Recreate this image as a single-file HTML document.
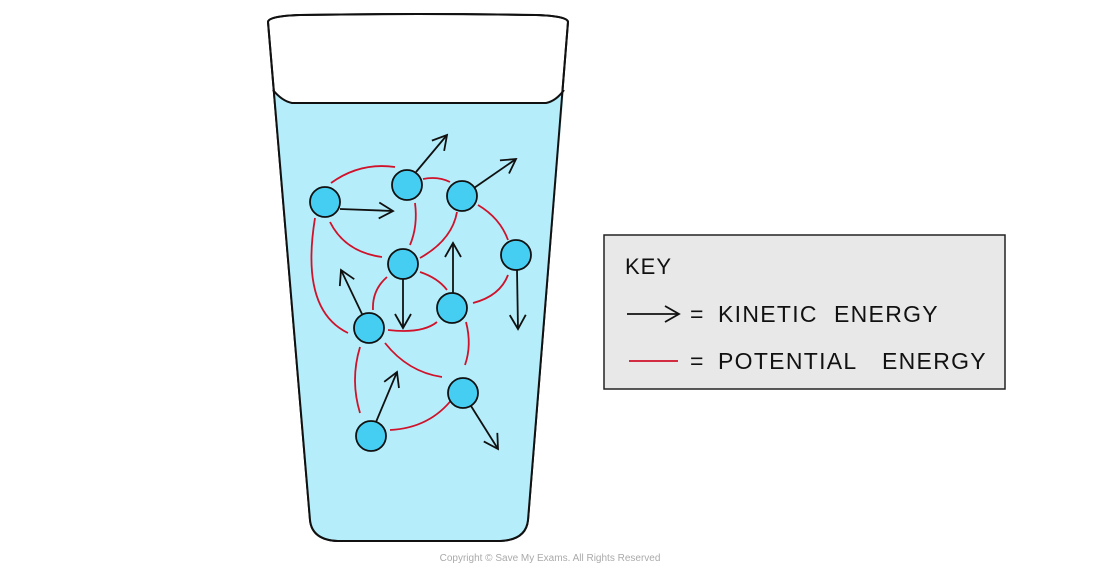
<!DOCTYPE html>
<html><head><style>
body{margin:0;background:#fff;}
svg{display:block;font-family:"Liberation Sans",sans-serif;}
</style></head><body>
<svg width="1100" height="570" viewBox="0 0 1100 570" xmlns="http://www.w3.org/2000/svg">
<defs>
<marker id="ah" markerWidth="18" markerHeight="18" refX="15" refY="9" orient="auto" markerUnits="userSpaceOnUse">
<path d="M1,1 L15,9 L1,17" fill="none" stroke="#111" stroke-width="1.8"/>
</marker>
</defs>
<path d="M268,22 Q268,16 300,15 Q418,13 536,15 Q568,16 568,22 L528,520 Q526,540 500,541 L338,541 Q312,540 310,520 Z" fill="#fff" stroke="#111" stroke-width="2"/>
<path d="M273,90 Q282,101 292,103 L546,103 Q556,101 564,90 L528,520 Q526,539 500,540 L338,540 Q312,539 310,520 Z" fill="#b5eefa" stroke="none"/>
<path d="M273,90 Q282,101 292,103 L546,103 Q556,101 564,90" fill="none" stroke="#111" stroke-width="2"/>
<path d="M268,22 Q268,16 300,15 Q418,13 536,15 Q568,16 568,22 L528,520 Q526,540 500,541 L338,541 Q312,540 310,520 Z" fill="none" stroke="#111" stroke-width="2"/>
<g fill="none" stroke="#d0122b" stroke-width="1.8">
<path d="M331,183 Q360,162 395,167"/>
<path d="M423,179 Q438,176 450,182"/>
<path d="M415,203 Q418,226 410,245"/>
<path d="M330,222 Q345,252 382,257"/>
<path d="M457,212 Q452,240 420,258"/>
<path d="M478,205 Q500,218 508,240"/>
<path d="M315,218 Q300,310 348,333"/>
<path d="M387,277 Q372,290 373,310"/>
<path d="M420,272 Q438,278 447,290"/>
<path d="M388,330 Q422,334 437,322"/>
<path d="M508,275 Q500,296 473,303"/>
<path d="M466,322 Q472,345 465,365"/>
<path d="M385,343 Q408,372 442,377"/>
<path d="M360,347 Q350,380 360,413"/>
<path d="M390,430 Q430,428 453,398"/>
</g>
<g stroke="#111" stroke-width="1.8" marker-end="url(#ah)">
<line x1="340" y1="209" x2="393" y2="211"/>
<line x1="416" y1="172" x2="447" y2="135"/>
<line x1="474" y1="188" x2="516" y2="159"/>
<line x1="403" y1="279" x2="403" y2="328"/>
<line x1="517" y1="270" x2="518" y2="329"/>
<line x1="453" y1="293" x2="453" y2="243"/>
<line x1="362" y1="314" x2="341" y2="270"/>
<line x1="471" y1="406" x2="498" y2="449"/>
<line x1="376" y1="422" x2="397" y2="372"/>
</g>
<g fill="#46cdf2" stroke="#111" stroke-width="1.8">
<circle cx="325" cy="202" r="15"/>
<circle cx="407" cy="185" r="15"/>
<circle cx="462" cy="196" r="15"/>
<circle cx="403" cy="264" r="15"/>
<circle cx="516" cy="255" r="15"/>
<circle cx="452" cy="308" r="15"/>
<circle cx="369" cy="328" r="15"/>
<circle cx="463" cy="393" r="15"/>
<circle cx="371" cy="436" r="15"/>
</g>
<rect x="604" y="235" width="401" height="154" fill="#e8e8e8" stroke="#222" stroke-width="1.5"/>
<text x="625" y="274" font-size="22" fill="#111" letter-spacing="1">KEY</text>
<line x1="627" y1="314" x2="679" y2="314" stroke="#111" stroke-width="1.8" marker-end="url(#ah)"/>
<g font-size="23" fill="#111" letter-spacing="1.3">
<text x="690" y="322">=</text>
<text x="718" y="322">KINETIC</text>
<text x="834" y="322">ENERGY</text>
<text x="690" y="369">=</text>
<text x="718" y="369">POTENTIAL</text>
<text x="882" y="369">ENERGY</text>
</g>
<line x1="629" y1="361" x2="678" y2="361" stroke="#d0122b" stroke-width="1.8"/>
<text x="550" y="561" font-size="10" fill="#aaa" text-anchor="middle">Copyright © Save My Exams. All Rights Reserved</text>
</svg>
</body></html>
